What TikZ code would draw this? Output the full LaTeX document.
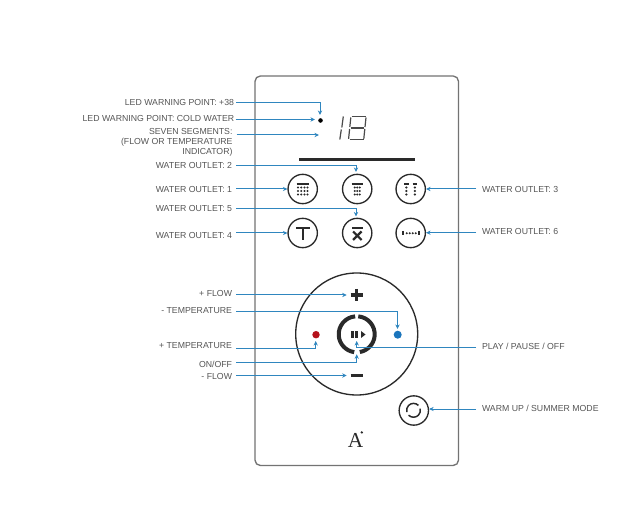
\documentclass[tikz,border=0pt]{standalone}
\usepackage{fontspec}
\setmainfont{Liberation Sans}
\newfontfamily\logofont{Liberation Serif}
\usetikzlibrary{arrows.meta,calc}
\definecolor{linkblue}{HTML}{2F86BF}
\definecolor{labelgray}{HTML}{555555}
\definecolor{inkdark}{HTML}{2A2A2A}
\definecolor{ledred}{HTML}{B5121B}
\definecolor{ledblue}{HTML}{1B75BC}
\tikzset{
  lbl/.style={anchor=east,inner sep=0pt,outer sep=3pt,text=labelgray,font=\fontsize{6.55pt}{7.5pt}\selectfont},
  rlbl/.style={anchor=west,inner sep=0pt,outer sep=4.5pt,text=labelgray,font=\fontsize{6.55pt}{7.5pt}\selectfont},
  link/.style={draw=linkblue,line width=0.75pt,-{Stealth[length=3.4pt,width=3.2pt]}},
  ring/.style={circle,draw=inkdark,line width=1pt,minimum size=22pt,inner sep=0pt,fill=white},
  bigring/.style={circle,draw=inkdark,line width=1pt,minimum size=91.5pt,inner sep=0pt},
  panel/.style={draw=black!55,line width=1pt,rounded corners=4pt},
  ic/.style={draw=inkdark,line width=1.3pt},
  pt/.style={fill=inkdark,draw=none},
  seg/.style={draw=inkdark!85,line width=0.9pt}
}
\begin{document}
\begin{tikzpicture}[x=0.75pt,y=-0.75pt]
\useasboundingbox (0,0) rectangle (627,530);
\fill[white] (0,0) rectangle (627,530);
\draw[panel] (255,76) rectangle (458.5,465.5);
\draw[draw=inkdark,line width=1.6pt] (299,159.5) -- (415,159.5);

% seven segments display
\draw[seg] (343.3,116.5) -- (341.8,127.5) (341.3,129.5) -- (339.8,139.5);
\draw[seg] (351.5,116.5) -- (365.5,116.5);
\draw[seg] (350.6,128) -- (364.3,128);
\draw[seg] (349.5,139.5) -- (363.5,139.5);
\draw[seg] (350.8,117.5) -- (349.8,127) (349.6,129) -- (348.6,138.8);
\draw[seg] (366,117.5) -- (365,127) (364.8,129) -- (363.8,138.8);

% nodes: buttons
\node[ring] (b1) at (302.7,189) {};
\node[ring] (b2) at (357.2,189) {};
\node[ring] (b3) at (410.7,189) {};
\node[ring] (b4) at (302.7,233) {};
\node[ring] (b5) at (357.2,233) {};
\node[ring] (b6) at (410.7,233) {};
\node[bigring] (dial) at (356.7,334) {};
\node[ring] (warm) at (413.8,410.5) {};
\node[circle,fill=black,inner sep=0pt,minimum size=3.4pt] (ledcold) at (320.5,120.5) {};
\node[circle,fill=ledred,inner sep=0pt,minimum size=5.6pt] (red) at (316,334.7) {};
\node[circle,fill=ledblue,inner sep=0pt,minimum size=6pt] (blue) at (397.7,334.7) {};

% icon 1
\draw[ic] (296.5,184) -- (309,184);
\foreach \x in {298,301.2,304.4,307.6} \foreach \y in {187.5,191,194.5}
  \fill[pt] (\x,\y) circle (0.85pt);
% icon 2
\draw[ic] (351.5,184) -- (363,184);
\foreach \x in {354.7,357.2,359.8} \foreach \y in {187.5,191,194.5}
  \fill[pt] (\x,\y) circle (0.8pt);
% icon 3
\draw[ic] (404,184) -- (408.5,184);
\draw[ic] (412.5,184) -- (417,184);
\foreach \x in {406.3,414.8} \foreach \y in {187.5,191,194.5}
  \fill[pt] (\x,\y) circle (0.9pt);
% icon 4
\draw[draw=inkdark,line width=1.9pt] (296,228) -- (310,228) (303,228) -- (303,240);
% icon 5
\draw[draw=inkdark,line width=1.3pt] (352,228) -- (362.7,228);
\draw[draw=inkdark,line width=1.6pt] (353,231.5) -- (361.5,240) (361.5,231.5) -- (353,240);
% icon 6
\draw[draw=inkdark,line width=1.5pt] (403.3,231) -- (403.3,235.5) (418.7,231) -- (418.7,235.5);
\foreach \x in {406.7,409.7,412.7,415.7} \fill[pt] (\x,233.3) circle (0.85pt);

% dial icons
\draw[draw=inkdark,line width=2.4pt] (350.7,295) -- (362.7,295) (356.7,289) -- (356.7,301);
\draw[draw=inkdark,line width=2.2pt] (350.7,375.3) -- (362.7,375.3);
\draw[draw=inkdark,line width=3pt] ($(356.7,334.3)+(85:13.5pt)$) arc[start angle=85,end angle=-80,radius=13.5pt];
\draw[draw=inkdark,line width=3pt] ($(356.7,334.3)+(95:13.5pt)$) arc[start angle=95,end angle=262,radius=13.5pt];
\fill[inkdark] (351.3,331) rectangle (353.8,338);
\fill[inkdark] (355,331) rectangle (357.5,338);
\fill[inkdark] (361,331) -- (365.5,334.5) -- (361,338) -- cycle;

% warm up icon
\draw[draw=inkdark,line width=1.1pt] ($(413.5,410.3)+(45:5.2pt)$) arc[start angle=45,end angle=195,radius=5.2pt];
\draw[draw=inkdark,line width=1.1pt] ($(413.5,410.3)+(225:5.2pt)$) arc[start angle=225,end angle=375,radius=5.2pt];

% logo
\node[inner sep=0pt,font=\logofont\fontsize{16pt}{16pt}\selectfont,text=inkdark] (logo) at (355.6,440.5) {A};
\node[circle,fill=inkdark,inner sep=0pt,minimum size=2pt] (logodot) at (361.8,432.4) {};

% targets
\coordinate (t38) at (320,115);
\coordinate (tcold) at (315,119.5);
\coordinate (tseven) at (319,135);
\coordinate (t2) at (356,172);
\coordinate (t5) at (356,216.5);
\coordinate (tplus) at (346.7,295);
\coordinate (tminus) at (346.7,375.5);
\coordinate (ttempm) at (397.5,329);
\coordinate (ttempp) at (315.7,341);
\coordinate (tonoff) at (356.7,354.3);
\coordinate (tplay) at (356.7,341);

% left labels
\node[lbl,outer sep=1.5pt] (l38) at (236,102.5) {LED WARNING POINT: +38};
\node[lbl,outer sep=1pt] (lcold) at (235.5,118.5) {LED WARNING POINT: COLD WATER};
\node[lbl,anchor=north east,align=right,outer sep=0pt] (lseven) at (232.5,128) {SEVEN SEGMENTS:\\(FLOW OR TEMPERATURE\\INDICATOR)};
\coordinate (sevenstart) at (236.5,135);
\node[lbl] (l2) at (236,165.3) {WATER OUTLET: 2};
\node[lbl] (l1) at (236,189) {WATER OUTLET: 1};
\node[lbl] (l5) at (236,208.5) {WATER OUTLET: 5};
\node[lbl] (l4) at (236,235) {WATER OUTLET: 4};
\node[lbl] (lplus) at (236,293) {+ FLOW};
\node[lbl] (ltempm) at (236,310.5) {- TEMPERATURE};
\node[lbl] (ltempp) at (236,346) {+ TEMPERATURE};
\node[lbl] (lonoff) at (236,364) {ON/OFF};
\node[lbl] (lminus) at (236,376) {- FLOW};
% right labels
\node[rlbl] (r3) at (476,189.5) {WATER OUTLET: 3};
\node[rlbl] (r6) at (476,231.5) {WATER OUTLET: 6};
\node[rlbl] (rplay) at (476,346.5) {PLAY / PAUSE / OFF};
\node[rlbl] (rwarm) at (476,408) {WARM UP / SUMMER MODE};

% connectors
\draw[link] (l38.east |- 0,103) -| (t38);
\draw[link] (lcold.east |- tcold) -- (tcold);
\draw[link] (sevenstart) -- (tseven);
\draw[link] (l2.east |- 0,165.3) -| (t2);
\draw[link] (l1.east) -- (b1.west);
\draw[link] (l5.east |- 0,209) -| (t5);
\draw[link] (l4.east |- 0,233) -- (b4.west |- 0,233);
\draw[link] (r3.west |- 0,189) -- (b3.east |- 0,189);
\draw[link] (r6.west |- 0,232.7) -- (b6.east |- 0,232.7);
\draw[link] (lplus.east |- 0,295) -- (tplus);
\draw[link] (ltempm.east |- 0,311.7) -| (ttempm);
\draw[link] (ltempp.east |- 0,348.3) -| (ttempp);
\draw[link] (lonoff.east |- 0,362.7) -| (tonoff);
\draw[link] (lminus.east |- 0,375.5) -- (tminus);
\draw[link] (rplay.west |- 0,347.3) -| (tplay);
\draw[link] (rwarm.west |- 0,409) -- (warm.east |- 0,409);
\end{tikzpicture}
\end{document}
